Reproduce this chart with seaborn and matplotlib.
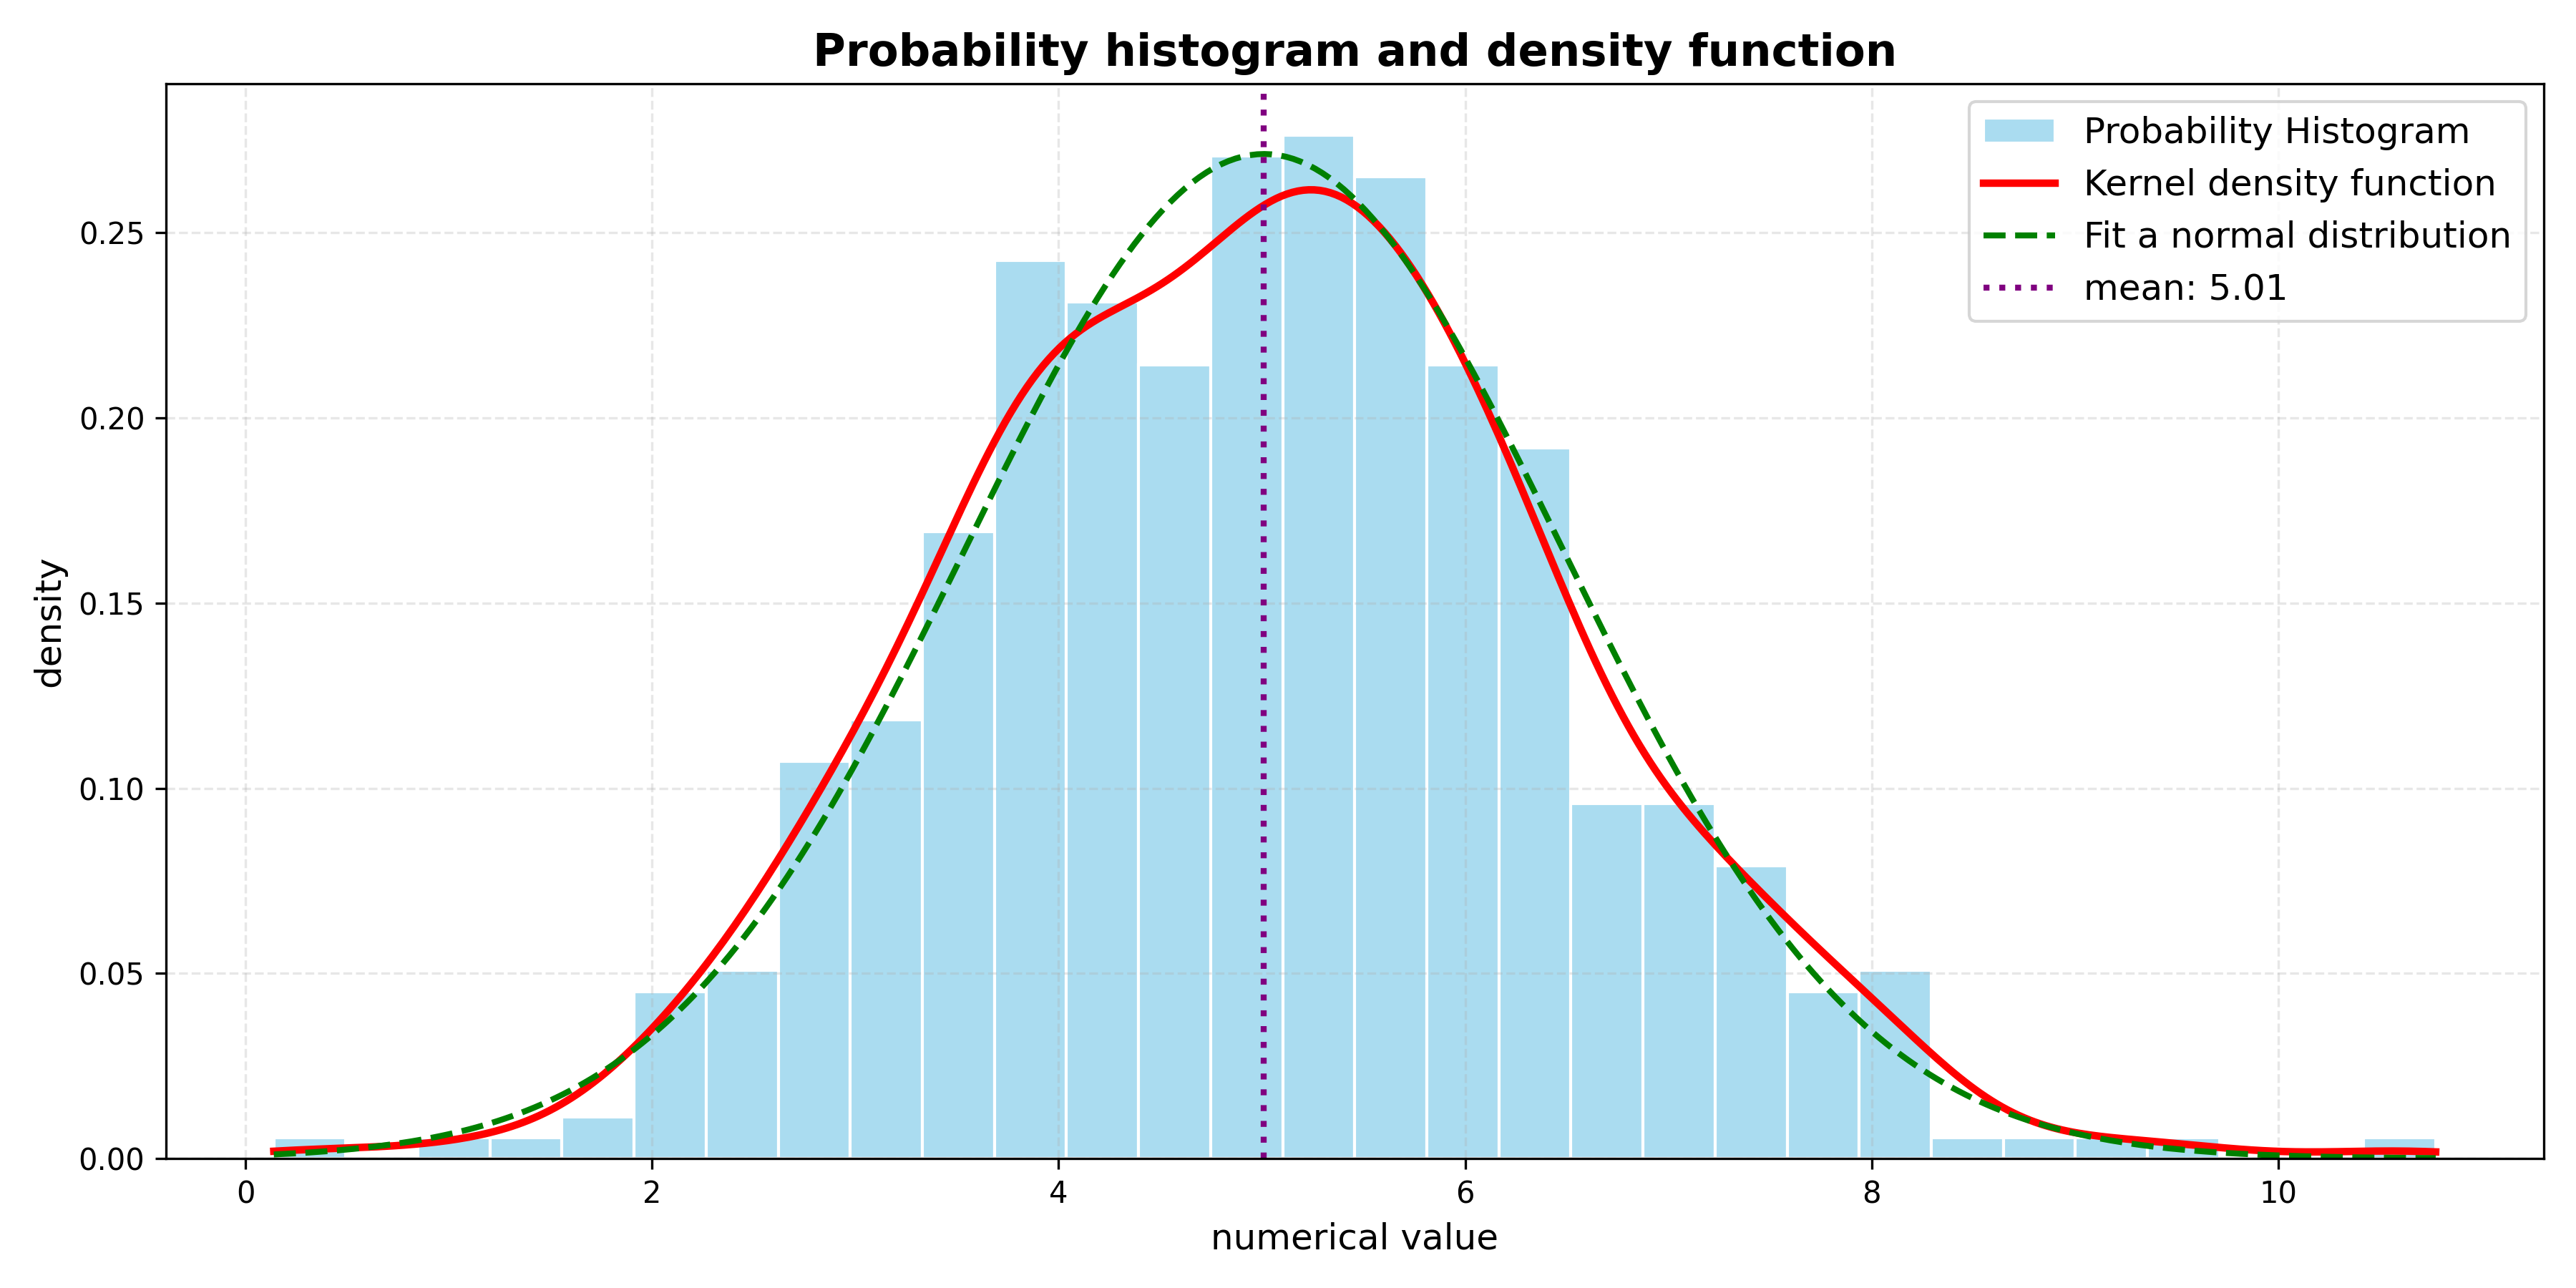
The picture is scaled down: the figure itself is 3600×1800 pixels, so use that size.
import numpy as np
import pandas as pd
import matplotlib
matplotlib.use("Agg")
import matplotlib.pyplot as plt
import seaborn as sns

# ---- data ----
bin_min = 0.138
bin_max = 10.776
n_bins = 30
bin_counts = [1, 0, 1, 1, 2, 8, 9, 19, 21, 30, 43, 41, 38, 48, 49,
              47, 38, 34, 17, 17, 14, 8, 9, 1, 1, 1, 1, 0, 0, 1]
mean_value = 5.01
fit_mean = 5.01
fit_std = 1.471

title = "Probability histogram and density function"
x_label = "numerical value"
y_label = "density"
legend_labels = ["Probability Histogram", "Kernel density function",
                 "Fit a normal distribution", f"mean: {mean_value:.2f}"]

# ---- build table ----
edges = np.linspace(bin_min, bin_max, n_bins + 1)
centers = (edges[:-1] + edges[1:]) / 2
hist_df = pd.DataFrame({"value": centers, "count": bin_counts})
sample = np.repeat(centers, bin_counts)

fig, ax = plt.subplots(figsize=(12, 6), dpi=300)

sns.histplot(data=hist_df, x="value", weights="count", bins=n_bins,
             binrange=(bin_min, bin_max),
             stat="density", color="skyblue", edgecolor="white",
             alpha=0.7, linewidth=1, label=legend_labels[0], ax=ax)

sns.kdeplot(x=sample, clip=(bin_min, bin_max), color="red", linewidth=2.5,
            bw_adjust=0.95, label=legend_labels[1], ax=ax, gridsize=400)

xs = np.linspace(bin_min, bin_max, 300)
pdf = np.exp(-0.5 * ((xs - fit_mean) / fit_std) ** 2) / (fit_std * np.sqrt(2 * np.pi))
sns.lineplot(x=xs, y=pdf, color="green", linestyle="--", linewidth=2,
             label=legend_labels[2], ax=ax)

ax.axvline(mean_value, color="purple", linestyle=":", linewidth=2,
           label=legend_labels[3])

ax.set_title(title, fontsize=15, fontweight="bold")
ax.set_xlabel(x_label, fontsize=12)
ax.set_ylabel(y_label, fontsize=12)
ax.grid(True, linestyle="--", alpha=0.3)

handles, labels = ax.get_legend_handles_labels()
order = [labels.index(l) for l in legend_labels if l in labels]
ax.legend([handles[i] for i in order], [labels[i] for i in order],
          loc="upper right", fontsize=12)

fig.tight_layout()
fig.savefig("out.png", dpi=300)
